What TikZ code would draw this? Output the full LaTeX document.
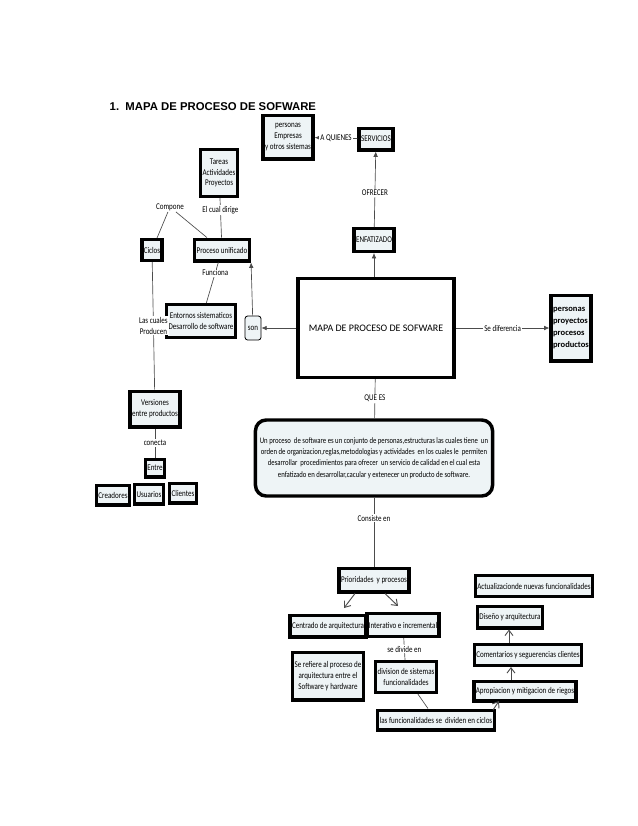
\documentclass[tikz,border=0pt]{standalone}
\usepackage{fontspec}
\setmainfont{Carlito}[FakeStretch=0.8]
\newfontfamily\widef{Carlito}
\newfontfamily\arialf{Liberation Sans}
\usetikzlibrary{arrows.meta}
\definecolor{boxfill}{HTML}{EEF4F6}
\tikzset{
 bx/.style={draw=black,line width=2.6pt,fill=boxfill,inner sep=1.5pt,align=center,font=\fontsize{6.6}{8}\selectfont},
 sz/.style 2 args={minimum width=#1*0.75pt-2.6pt,minimum height=#2*0.75pt-2.6pt},
 lbl/.style={font=\fontsize{6.6}{8}\selectfont,align=center,fill=white,inner sep=0.8pt},
 ln/.style={draw=black!70,line width=0.5pt},
 ar/.style={ln,-{Latex[length=4pt,width=3.5pt]}},
 oar/.style={ln,line width=0.7pt,-{Straight Barb[length=4pt,width=6pt]}}
}
\begin{document}
\begin{tikzpicture}[x=0.75pt,y=-0.75pt]
\useasboundingbox (0,0) rectangle (638,826);
\node[font=\arialf\bfseries\fontsize{8.5}{10}\selectfont,anchor=west] (title) at (105,107) {1.\ \ MAPA DE PROCESO DE SOFWARE};
\node[bx,sz={48}{47}] (pers) at (288,137) {personas\\Empresas\\y otros sistemas};
\node[bx,sz={35}{25}] (serv) at (376,139) {SERVICIOS};
\node[bx,sz={36}{26}] (enf) at (374,240) {ENFATIZADO};
\node[bx,sz={38}{50}] (tar) at (219,173) {Tareas\\Actividades\\Proyectos};
\node[bx,sz={22}{24}] (cic) at (152,250) {Ciclos};
\node[bx,sz={52}{25}] (pu) at (222,250) {Proceso unificado};
\node[bx,sz={62}{36}] (ent) at (201,321) {Entornos sistematicos\\Desarrollo de software};
\node[draw=black,line width=0.6pt,rounded corners=2pt,fill=boxfill,inner sep=1.5pt,font=\fontsize{6.6}{8}\selectfont,minimum height=18pt,minimum width=12pt] (son) at (253,328) {son};
\node[draw=black,line width=2.6pt,fill=white,minimum width=117pt,minimum height=74pt,font=\widef\fontsize{7.5}{9}\selectfont] (main) at (376,328) {MAPA DE PROCESO DE SOFWARE};
\node[bx,sz={36}{69},font=\widef\bfseries\fontsize{6.4}{8.8}\selectfont,align=left] (dif) at (571,328) {personas\\proyectos\\procesos\\productos};
\node[bx,sz={47}{39}] (ver) at (155,409) {Versiones\\entre productos};
\node[bx,sz={19}{21}] (entre) at (155,468) {Entre};
\node[bx,sz={32}{23}] (cre) at (113,495) {Creadores};
\node[bx,sz={28}{23}] (usu) at (149,494) {Usuarios};
\node[bx,sz={27}{23}] (cli) at (183,493) {Clientes};
\node[draw=black,line width=2.6pt,rounded corners=8pt,fill=boxfill,minimum width=162pt,minimum height=57pt,align=center,font=\fontsize{6.3}{8.4}\selectfont] (desc) at (374,458) {Un proceso\ \ de software es un conjunto de personas,estructuras las cuales tiene\ \ un\\orden de organizacion,reglas,metodologias y actividades\ \ en los cuales le\ \ permiten\\desarrollar\ \ procedimientos para ofrecer\ \ un servicio de calidad en el cual esta\\enfatizado en desarrollar,cacular y extenecer un producto de software.};
\node[bx,sz={65}{27}] (pri) at (374,580) {Prioridades\ \ y procesos};
\node[bx,sz={68}{25}] (cen) at (328,626) {Centrado de arquitectura};
\node[bx,sz={67}{26}] (int) at (403,625) {Interativo e incremental};
\node[bx,sz={65}{51}] (ref) at (328,676) {Se refiere al proceso de\\arquitectura entre el\\Software y hardware};
\node[bx,sz={60}{34}] (div) at (406,677) {division de sistemas\\funcionalidades};
\node[bx,sz={108}{23}] (fun) at (436,720) {las funcionalidades se\ \ dividen en ciclos};
\node[bx,sz={106}{24}] (act) at (534,586) {Actualizacionde nuevas funcionalidades};
\node[bx,sz={60}{25}] (dis) at (510,617) {Diseño y arquitectura};
\node[bx,sz={98}{24}] (com) at (528,655) {Comentarios y seguerencias clientes};
\node[bx,sz={93}{23}] (apr) at (525,691) {Apropiacion y mitigacion de riegos};
% connectors
\draw[ar] (serv) -- node[lbl]{A QUIENES} (pers);
\draw[ar] (enf) -- node[lbl,pos=0.45]{OFRECER} (serv);
\draw[ar] (main.north -| enf) -- (enf);
\draw[ar] (main.west |- son) -- (son);
\draw[ar] (son) -- (pu.south east);
\draw[ln] (ent) -- node[lbl,pos=0.75]{Funciona} (pu);
\draw[ln] (tar) -- node[lbl,pos=0.3]{El cual dirige} (pu);
\node[lbl] (comp) at (170,207) {Compone};
\draw[ln] (comp) -- (cic);
\draw[ln] (comp) -- (pu);
\draw[ln] (cic) -- node[lbl]{Las cuales\\Producen} (ver);
\draw[ln] (ver) -- node[lbl]{conecta} (entre);
\draw[ar] (main) -- node[lbl]{Se diferencia} (dif);
\draw[ln] (main) -- node[lbl]{QUE ES} (desc);
\draw[ln] (desc) -- node[lbl,pos=0.3]{Consiste en} (pri);
\coordinate (pa) at (344,608);
\coordinate (pb) at (398,606);
\draw[oar] (pri.south -| 355,0) -- (pa);
\draw[oar] (pri.south -| 385,0) -- (pb);
\draw[ln] (int) -- node[lbl]{se divide en} (div);
\draw[ln] (div) -- (fun);
\coordinate (fa) at (493,710);
\coordinate (fb) at (499,701);
\draw[oar] (fa) -- (fb);
\draw[oar] (apr.north -| 511,0) -- (com.south -| 511,0);
\draw[oar] (com.north -| 509,0) -- (dis.south -| 509,0);
\end{tikzpicture}
\end{document}
